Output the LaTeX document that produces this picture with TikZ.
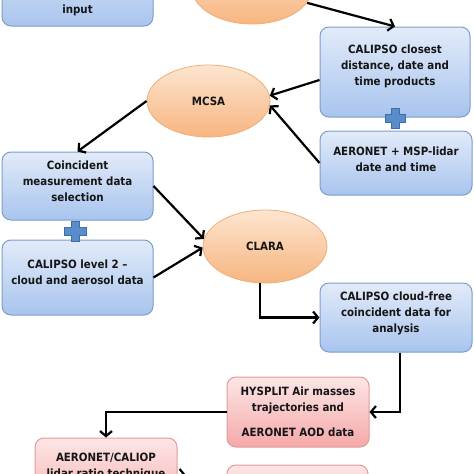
\documentclass[tikz,border=0pt]{standalone}
\usepackage{fontspec}
\setmainfont{DejaVu Sans}
\newfontfamily\condf[Ligatures=TeX]{DejaVu Sans Condensed}
\usetikzlibrary{shapes.geometric,arrows.meta,calc}
\definecolor{btop}{HTML}{E2EBF9}
\definecolor{bbot}{HTML}{A8C4EE}
\definecolor{bline}{HTML}{7E9DCB}
\definecolor{otop}{HTML}{FDE5D0}
\definecolor{obot}{HTML}{F7B580}
\definecolor{oline}{HTML}{EFAE78}
\definecolor{ptop}{HTML}{FDE6E6}
\definecolor{pbot}{HTML}{F5A8A8}
\definecolor{pline}{HTML}{E39A9A}
\definecolor{plusfill}{HTML}{5A8BCB}
\definecolor{plusline}{HTML}{3F6DA6}
\definecolor{txt}{HTML}{161616}
\tikzset{
  tx/.style={font=\condf\bfseries\fontsize{11.4}{16}\selectfont, align=center, text=txt, inner sep=0pt},
  bbox/.style={draw=bline, line width=1pt, rounded corners=9pt, top color=btop, bottom color=bbot, inner sep=0pt},
  pbox/.style={draw=pline, line width=1pt, rounded corners=9pt, top color=ptop, bottom color=pbot, inner sep=0pt},
  oell/.style={ellipse, draw=oline, line width=0.8pt, top color=otop, bottom color=obot, inner sep=0pt},
  arr/.style={line width=2.2pt, draw=black, -{Straight Barb[length=5pt,width=12pt]}},
  plusshape/.style={fill=plusfill, draw=plusline, line width=0.6pt}
}
\begin{document}
\begin{tikzpicture}[x=1pt,y=-1pt]
\useasboundingbox (0,0) rectangle (474,474);
\clip (0,0) rectangle (474,474);
\fill[white] (0,0) rectangle (474,474);

% nodes
\node[bbox, minimum width=151, minimum height=76,
  label={[tx, yshift=-22pt]center:input}] (inbox) at (77.5,-12) {};
\node[oell, minimum width=120, minimum height=72] (ell0) at (252,-12) {};

\node[bbox, minimum width=150, minimum height=90,
  label={[tx, yshift=6pt]center:{CALIPSO closest\\distance, date and\\time products}}] (closest) at (395,72) {};
\node[bbox, minimum width=152, minimum height=64,
  label={[tx, yshift=4pt]center:{AERONET + MSP-lidar\\date and time}}] (aeronet) at (396,163) {};

\node[oell, minimum width=123, minimum height=72, tx] (mcsa) at (208.5,101) {MCSA};

\node[bbox, minimum width=151, minimum height=68,
  label={[tx, yshift=5pt]center:{Coincident\\measurement data\\selection}}] (coinc) at (77.5,186) {};
\node[bbox, minimum width=151, minimum height=75,
  label={[tx, yshift=5pt]center:{CALIPSO level 2 –\\cloud and aerosol data}}] (level2) at (77.5,277.5) {};

\node[oell, minimum width=124, minimum height=73, tx] (clara) at (265,246.5) {CLARA};

\node[bbox, minimum width=152, minimum height=69,
  label={[tx, yshift=4.5pt]center:{CALIPSO cloud-free\\coincident data for\\analysis}}] (cloudfree) at (396,317.5) {};

\node[pbox, minimum width=142, minimum height=70,
  label={[tx]center:{HYSPLIT Air masses\\trajectories and\\[9pt]AERONET AOD data}}] (hysplit) at (298,412) {};

\node[pbox, minimum width=142, minimum height=80,
  label={[tx, yshift=12pt]center:{AERONET/CALIOP\\lidar ratio technique}}] (caliop) at (106,478) {};

\node[pbox, minimum width=141, minimum height=70] (bottom) at (297.5,500) {};

% plus signs
\path[plusshape] (391,108) -- (399,108) -- (399,114) -- (405,114) -- (405,122) -- (399,122) -- (399,128)
  -- (391,128) -- (391,122) -- (385,122) -- (385,114) -- (391,114) -- cycle;
\path[plusshape] (71,221) -- (79,221) -- (79,227) -- (86,227) -- (86,235) -- (79,235) -- (79,241)
  -- (71,241) -- (71,235) -- (64,235) -- (64,227) -- (71,227) -- cycle;

% connectors
\draw[arr] (ell0) -- (closest.north);
\draw[arr] ($(closest.west)+(0,8)$) -- (mcsa.5);
\draw[arr] (aeronet.west) -- (mcsa.-4);
\draw[arr] (mcsa.west) -- (coinc.north);
\draw[arr] (coinc.east) -- (clara.173);
\draw[arr] (level2.east) -- (clara.181);
\draw[arr] ($(clara.south)+(-5,0)$) |- (cloudfree.west);
\draw[arr] ($(cloudfree.south)+(4,0)$) |- (hysplit.east);
\draw[arr] (hysplit.west) -| (caliop.north);
\coordinate (cend) at (186,475);
\draw[arr] (caliop.east |- cend) -- (cend);
\end{tikzpicture}
\end{document}
